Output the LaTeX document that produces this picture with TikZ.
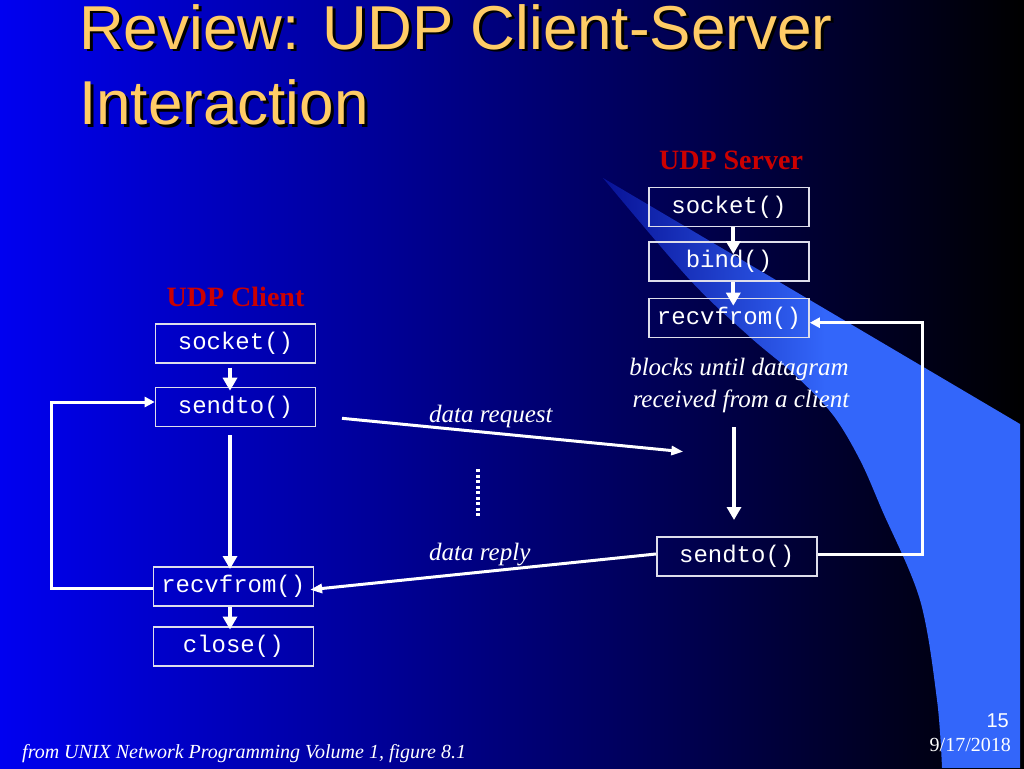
\documentclass[tikz,border=0pt]{standalone}
\usepackage{fontspec}
\setmainfont{Liberation Serif}
\newfontfamily\arialf{Liberation Sans}
\newfontfamily\courf{Liberation Mono}
\usetikzlibrary{arrows.meta}
\definecolor{bgL}{RGB}{0,0,240}
\definecolor{bgM}{RGB}{0,0,168}
\definecolor{wedgeblue}{RGB}{51,102,250}
\definecolor{wedgeL}{RGB}{8,18,150}
\definecolor{titlecol}{RGB}{255,204,102}
\definecolor{labred}{RGB}{204,0,0}
\definecolor{boxline}{RGB}{222,222,235}
\tikzset{
  codebox/.style={draw=boxline, line width=1.6pt, minimum width=160pt, minimum height=39pt,
    inner sep=0pt, text=white, font=\courf\fontsize{24}{24}\selectfont},
  bigarr/.style={draw=white, line width=4pt, -{Triangle[width=14pt,length=13pt]}},
  looparr/.style={draw=white, line width=3pt, -{Triangle[width=10pt,length=10pt]}},
  msgarr/.style={draw=white, line width=3pt, -{Triangle[width=9pt,length=12pt]}},
  titletext/.style={anchor=base west, inner sep=0pt, font=\arialf\fontsize{62}{73}\selectfont},
  redlabel/.style={anchor=base, inner sep=0pt, text=labred, font=\bfseries\fontsize{28}{32}\selectfont},
  note/.style={inner sep=0pt, text=white, font=\itshape\fontsize{25}{32}\selectfont},
  foot/.style={inner sep=0pt, text=white, font=\fontsize{20}{24}\selectfont}
}
\begin{document}
\begin{tikzpicture}[x=1pt,y=-1pt]
\useasboundingbox (0,0) rectangle (1024,768);
% background
\shade[left color=bgL, middle color=bgM, right color=black] (0,0) rectangle (1024,768);
% light wedge
\begin{scope}
\clip (603,178) -- (1020,424) -- (1020,768) -- (942,768)
  -- plot[smooth, tension=0.55] coordinates {(942,768) (937,700) (920,600) (882,510) (860,460) (833,415) (795,375) (750,337) (690,280) (603,178)} -- cycle;
\shade[left color=wedgeL, right color=wedgeblue] (603,170) rectangle (825,768);
\fill[wedgeblue] (824.5,170) rectangle (1024,768);
\end{scope}
% title
\node[titletext, text=black] (t1s) at (82,52) {Review: UDP Client-Server};
\node[titletext, text=black] (t2s) at (82,127) {Interaction};
\node[titletext, text=titlecol] (t1) at (79,49) {Review: UDP Client-Server};
\node[titletext, text=titlecol] (t2) at (79,124) {Interaction};
% labels
\node[redlabel] (srvlab) at (731,169) {UDP Server};
\node[redlabel] (clilab) at (235.5,306) {UDP Client};
% client boxes
\node[codebox] (csock) at (235.5,343.3) {socket()};
\node[codebox] (csend) at (235.5,407) {sendto()};
\node[codebox] (crecv) at (233.3,586.3) {recvfrom()};
\node[codebox] (cclose) at (233.3,646.3) {close()};
% server boxes
\node[codebox] (ssock) at (729,207) {socket()};
\node[codebox] (sbind) at (729,261.5) {bind()};
\node[codebox] (srecv) at (729,318) {recvfrom()};
\node[codebox] (ssend) at (736.7,556.7) {sendto()};
% notes
\node[note, anchor=base] (blk1) at (739,375) {blocks until datagram};
\node[note, anchor=base] (blk2) at (741,407) {received from a client};
\node[note, anchor=base west] (req) at (429,422) {data request};
\node[note, anchor=base west] (rep) at (429,560) {data reply};
% client arrows
\draw[bigarr, shorten <=4pt, shorten >=-4pt] (230,0 |- csock.south) -- (230,0 |- csend.north);
\draw[bigarr, shorten <=8pt, shorten >=-3pt] (230,0 |- csend.south) -- (230,0 |- crecv.north);
\draw[bigarr, shorten >=-3.5pt] (230,0 |- crecv.south) -- (230,0 |- cclose.north);
\draw[looparr] ([yshift=-2pt]crecv.west) -- ++(-101.3,0) |- ([yshift=5pt]csend.west);
% server arrows
\draw[bigarr, shorten >=-13pt] (733.3,0 |- ssock.south) -- (733.3,0 |- sbind.north);
\draw[bigarr, shorten >=-8pt] (733.3,0 |- sbind.south) -- (733.3,0 |- srecv.north);
\coordinate (sdownA) at (734,427);
\coordinate (sdownB) at (734,520);
\draw[bigarr] (sdownA) -- (sdownB);
\draw[looparr] ([yshift=2.5pt]ssend.east) -- ++(105.3,0) |- ([yshift=-4.7pt]srecv.east);
% messages
\coordinate (reqA) at (342,418.3);
\coordinate (reqB) at (683.3,451.7);
\draw[msgarr] (reqA) -- (reqB);
\draw[msgarr, shorten >=-4pt] ([yshift=2.7pt]ssend.west) -- ([yshift=-3pt]crecv.east);
\coordinate (dotA) at (478,469);
\coordinate (dotB) at (478,517);
\draw[white, line width=4pt, dash pattern=on 3.3pt off 2.2pt] (dotA) -- (dotB);
% footer
\node[foot, anchor=base west, font=\itshape\fontsize{20}{24}\selectfont] (src) at (22,758) {from UNIX Network Programming Volume 1, figure 8.1};
\node[foot, anchor=base east, font=\arialf\fontsize{20}{24}\selectfont] (pgno) at (1009,727) {15};
\node[foot, anchor=base east] (date) at (1011,751) {9/17/2018};
\end{tikzpicture}
\end{document}
